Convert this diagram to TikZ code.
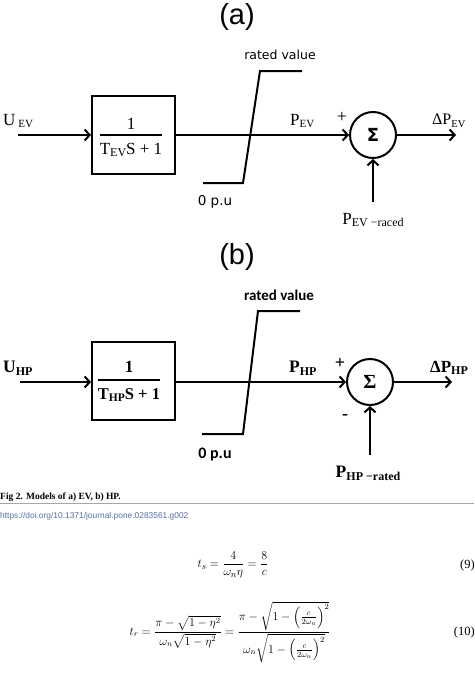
\documentclass[tikz,border=0pt]{standalone}
\usepackage{fontspec}
\usepackage{amsmath}
\setmainfont{Liberation Serif}
\newfontfamily\lsans{Liberation Sans}
\newfontfamily\dsans{DejaVu Sans}
\newfontfamily\carl{Carlito}
\usetikzlibrary{arrows.meta}
\newcommand\sbs[2]{\raisebox{-0.35ex}{\fontsize{#1}{#1}\selectfont #2}}
\definecolor{doiblue}{RGB}{85,110,160}
\tikzset{
  wire/.style={line width=2pt},
  arr/.style={line width=2pt,-{Straight Barb[length=5pt,width=11pt]}},
  blk/.style={draw,line width=2pt,rectangle,inner sep=0pt,minimum width=83pt,minimum height=78pt},
  sumnode/.style={draw,line width=2pt,circle,inner sep=0pt,minimum size=46pt},
  lbl/.style={inner sep=0pt},
}
\begin{document}
\begin{tikzpicture}[x=1pt,y=-1pt]
\useasboundingbox (0,0) rectangle (474,680);
% ---------------- (a)
\node[lbl] (ta) at (237,17) {\lsans\fontsize{29}{30}\selectfont (a)};
\node[lbl,anchor=west] (ua) at (3,121) {\fontsize{17}{17}\selectfont U\,\sbs{11}{EV}};
\node[blk] (boxa) at (133.5,135) {};
\node[lbl] (numa) at (131,124) {\fontsize{17}{17}\selectfont 1};
\node[lbl] (dena) at (131,150) {\fontsize{17}{17}\selectfont T\sbs{12}{EV}S + 1};
\draw[line width=1.2pt] (dena.west |- boxa.center) -- (dena.east |- boxa.center);
\node[sumnode] (suma) at (373,135) {\dsans\bfseries\fontsize{18}{18}\selectfont Σ};
\coordinate (ina) at (18,135);
\coordinate (outa) at (456,135);
\coordinate (bota) at (373,202);
\draw[arr] (ina) -- (boxa.west);
\draw[arr] (boxa.east) -- (suma.west);
\draw[arr] (suma.east) -- (outa);
\draw[arr] (bota) -- (suma.south);
\draw[wire] (203,183) -- (243,183) -- (260,71) -- (302,71);
\node[lbl] (rva) at (280,55) {\dsans\fontsize{12.5}{12}\selectfont rated value};
\node[lbl] (zpa) at (215,202) {\dsans\fontsize{13.5}{13}\selectfont 0 p.u};
\node[lbl,anchor=west] (pa) at (290,121) {\fontsize{17}{17}\selectfont P\sbs{11}{EV}};
\node[lbl] (plusa) at (342,117) {\fontsize{18}{18}\selectfont +};
\node[lbl,anchor=west] (dpa) at (432,121) {\fontsize{16}{16}\selectfont ΔP\sbs{10.5}{EV}};
\node[lbl] (pra) at (373,220) {\fontsize{17}{17}\selectfont P\sbs{12}{EV \textminus raced}};
% ---------------- (b)
\node[lbl] (tb) at (237,257) {\lsans\fontsize{29}{30}\selectfont (b)};
\node[lbl,anchor=west] (ub) at (3,368) {\bfseries\fontsize{17.5}{17}\selectfont U\sbs{12}{HP}};
\node[blk] (boxb) at (133.5,381) {};
\node[lbl] (numb) at (129,367) {\bfseries\fontsize{17}{17}\selectfont 1};
\node[lbl] (denb) at (129,395) {\bfseries\fontsize{16.5}{17}\selectfont T\sbs{11.5}{HP}S + 1};
\draw[line width=1.2pt] (denb.west |- 0,380) -- (denb.east |- 0,380);
\node[sumnode] (sumb) at (370,382) {\bfseries\fontsize{20}{20}\selectfont Σ};
\coordinate (inb) at (20,382);
\coordinate (outb) at (452,382);
\coordinate (botb) at (370,455);
\draw[arr] (inb) -- (boxb.west |- inb);
\draw[arr] (boxb.east |- inb) -- (sumb.west);
\draw[arr] (sumb.east) -- (outb);
\draw[arr] (botb) -- (sumb.south);
\draw[wire] (202,434) -- (243,434) -- (258,311) -- (300,311);
\node[lbl] (rvb) at (279,295) {\carl\bfseries\fontsize{15}{15}\selectfont rated value};
\node[lbl] (zpb) at (215,455) {\carl\bfseries\fontsize{16}{16}\selectfont 0 p.u};
\node[lbl,anchor=west] (pb) at (289,368) {\bfseries\fontsize{17.5}{17}\selectfont P\sbs{12}{HP}};
\node[lbl] (plusb) at (340,363) {\bfseries\fontsize{18}{18}\selectfont +};
\node[lbl] (minb) at (345,417) {\bfseries\fontsize{18}{18}\selectfont -};
\node[lbl,anchor=west] (dpb) at (430,368) {\bfseries\fontsize{17}{17}\selectfont ΔP\sbs{12}{HP}};
\node[lbl] (prb) at (368,473) {\bfseries\fontsize{17.5}{17}\selectfont P\sbs{12}{HP \textminus rated}};
% ---------------- caption
\node[lbl,anchor=west] (cap) at (0,497) {\bfseries\fontsize{9.5}{10}\selectfont Fig 2. Models of a) EV, b) HP.};
\draw[black!35,line width=0.7pt] (0,503.5) -- (474,503.5);
\node[lbl,anchor=west,text=doiblue] (doi) at (0,516) {\lsans\fontsize{8.4}{8}\selectfont https://doi.org/10.1371/journal.pone.0283561.g002};
% ---------------- equations
\node[lbl] (eq9) at (233,565) {\fontsize{12.5}{15}\selectfont $t_s=\dfrac{4}{\omega_n\eta}=\dfrac{8}{c}$};
\node[lbl,anchor=east] (n9) at (475,565) {\fontsize{12.5}{13}\selectfont (9)};
\node[lbl] (eq10) at (230,632) {\fontsize{12}{15}\selectfont $t_r=\dfrac{\pi-\sqrt{1-\eta^2}}{\omega_n\sqrt{1-\eta^2}}=\dfrac{\pi-\sqrt{1-\left(\frac{c}{2\omega_n}\right)^2}}{\omega_n\sqrt{1-\left(\frac{c}{2\omega_n}\right)^2}}$};
\node[lbl,anchor=east] (n10) at (475,632) {\fontsize{12.5}{13}\selectfont (10)};
\end{tikzpicture}
\end{document}
